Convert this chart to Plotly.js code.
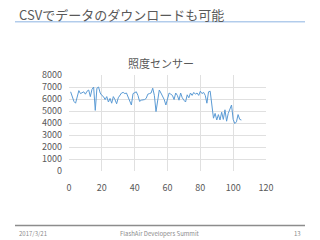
<!DOCTYPE html>
<html><head><meta charset="utf-8">
<script src="https://cdn.plot.ly/plotly-3.0.1.min.js"></script>
<style>html,body{margin:0;padding:0;background:#fff}#c{width:320px;height:240px}</style>
</head><body><div id="c"></div>
<script>
const slideTitle = "CSVでデータのダウンロードも可能";
const chartTitle = "照度センサー";
const footerDate = "2017/3/21";
const footerEvent = "FlashAir Developers Summit";
const pageNumber = "13";
const xValues = [];
for (let i = 1; i <= 105; i++) xValues.push(i);
const illuminance = [
6600,6100,5800,5650,6300,6700,6450,6550,6600,6400,
6650,6750,6200,6800,7000,5050,6900,7000,6500,6300,
6200,5950,6200,5750,6050,5650,6200,5950,5600,6100,
6300,6500,6550,6450,6500,6200,5800,5500,6450,6500,
6600,6300,5800,5900,5900,5950,6050,6400,6450,6500,
6900,6300,4950,5800,6750,6500,6200,5950,5500,6000,
6500,6400,6300,5950,6500,6300,5900,6500,6100,5900,
5750,6350,6100,6500,6300,6550,6400,6500,6300,6650,
6450,6550,6300,5650,6600,6650,5650,4400,4800,4250,
4700,4250,4900,4300,5100,4150,4800,5200,5500,4300,
3950,4100,4700,4300,4250];
const xTicks = [0,20,40,60,80,100,120];
const yTicks = [0,1000,2000,3000,4000,5000,6000,7000,8000];

const font = "Noto Sans CJK JP, Noto Sans, sans-serif";
const L=69, R=266, T=75, B=170.7;
const px = x => (x-L)/(R-L);
const py = y => (B-y)/(B-T);

Plotly.newPlot('c', [{
  x: xValues, y: illuminance, type: 'scatter', mode: 'lines',
  line: {color: '#5b9bd5', width: 1}
}], {
  width: 320, height: 240,
  margin: {l: L, r: 320-R, t: T, b: 240-B},
  paper_bgcolor: '#fff', plot_bgcolor: '#fff',
  showlegend: false,
  font: {family: font, color: '#595959', size: 9},
  xaxis: {range: [0,120], tickvals: xTicks, showgrid: true, gridcolor: '#e0e0e0', gridwidth: 1,
          zeroline: false, showline: false, ticks: '', ticklabelstandoff: 10, tickfont: {size: 9, color: '#595959'}, fixedrange: true},
  yaxis: {range: [0,8000], tickvals: yTicks, showgrid: true, gridcolor: '#e0e0e0', gridwidth: 1,
          zeroline: false, showline: false, ticks: '', ticklabelstandoff: 6, tickfont: {size: 9, color: '#595959'}, fixedrange: true},
  shapes: [
    {type: 'line', xref: 'paper', yref: 'paper', x0: px(15), x1: px(305), y0: py(22), y1: py(22), line: {color: '#8db3e2', width: 1}},
    {type: 'line', xref: 'paper', yref: 'paper', x0: px(15), x1: px(305), y0: py(225), y1: py(225), line: {color: '#8c8c8c', width: 1.5}}
  ],
  annotations: [
    {text: slideTitle, xref: 'paper', yref: 'paper', x: px(17), y: py(15), xanchor: 'left', yanchor: 'middle', showarrow: false, font: {size: 13, color: '#595959', family: font}},
    {text: chartTitle, xref: 'paper', yref: 'paper', x: px(161), y: py(63), xanchor: 'center', yanchor: 'middle', showarrow: false, font: {size: 11, color: '#595959', family: font}},
    {text: footerDate, xref: 'paper', yref: 'paper', x: px(17), y: py(233), xanchor: 'left', yanchor: 'middle', showarrow: false, font: {size: 6, color: '#8c8c8c', family: font}},
    {text: footerEvent, xref: 'paper', yref: 'paper', x: px(160), y: py(233), xanchor: 'center', yanchor: 'middle', showarrow: false, font: {size: 6, color: '#8c8c8c', family: font}},
    {text: pageNumber, xref: 'paper', yref: 'paper', x: px(303), y: py(233), xanchor: 'right', yanchor: 'middle', showarrow: false, font: {size: 6, color: '#8c8c8c', family: font}}
  ]
}, {staticPlot: true, displayModeBar: false});
</script></body></html>
